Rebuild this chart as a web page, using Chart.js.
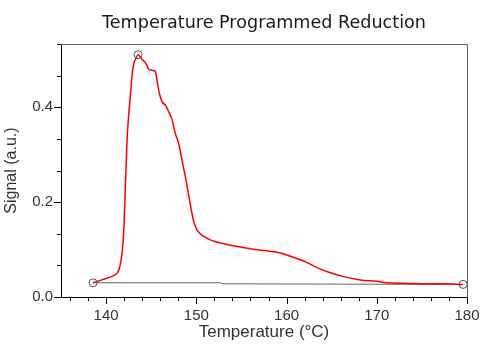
<!DOCTYPE html>
<html>
<head>
<meta charset="utf-8">
<script src="https://cdn.jsdelivr.net/npm/chart.js@4.4.1/dist/chart.umd.min.js"></script>
<style>
  html, body { margin: 0; padding: 0; background: #fff; }
  #wrap { width: 488px; height: 364px; }
</style>
</head>
<body>
<div id="wrap"><canvas id="c" width="488" height="364"></canvas></div>
<script>
// ---- data ----
const temperature = [138.55, 139.36, 139.91, 140.65, 141.21, 141.46, 141.69, 141.83, 141.98, 142.05,
  142.13, 142.24, 142.32, 142.49, 142.68, 142.87, 143.05, 143.31, 143.54, 143.98,
  144.35, 144.71, 145.09, 145.45, 145.64, 145.82, 146.20, 146.56, 146.93, 147.31,
  147.67, 148.04, 148.34, 148.59, 148.78, 149.15, 149.52, 149.70, 149.89, 150.08,
  150.35, 150.63, 151.00, 151.36, 152.29, 153.77, 155.62, 157.46, 159.31, 160.42,
  161.90, 163.38, 164.86, 166.33, 168.18, 170.03, 171.14, 173.72, 175.58, 177.42, 179.57];
const signal = [0.030, 0.035, 0.0385, 0.0434, 0.0504, 0.0597, 0.0808, 0.105, 0.148, 0.183,
  0.232, 0.289, 0.331, 0.381, 0.423, 0.465, 0.490, 0.504, 0.511, 0.501,
  0.494, 0.481, 0.478, 0.476, 0.458, 0.437, 0.412, 0.405, 0.391, 0.374,
  0.345, 0.324, 0.296, 0.271, 0.254, 0.215, 0.176, 0.160, 0.150, 0.141,
  0.135, 0.130, 0.126, 0.122, 0.116, 0.109, 0.103, 0.098, 0.093, 0.086,
  0.076, 0.062, 0.051, 0.043, 0.036, 0.033, 0.030, 0.0286, 0.028, 0.028, 0.0265];
const baselineTemp = [138.55, 152.7, 152.8, 179.57];
const baselineSignal = [0.030, 0.030, 0.0278, 0.0265];
const markerTemp = [138.55, 143.54, 179.57];
const markerSignal = [0.030, 0.511, 0.0265];

const xTicks = [136, 138, 140, 142, 144, 146, 148, 150, 152, 154, 156, 158, 160, 162, 164, 166, 168, 170, 172, 174, 176, 178, 180];
const xMajor = [140, 150, 160, 170, 180];
const yTicks = [0, 0.0667, 0.1333, 0.2, 0.2667, 0.3333, 0.4, 0.4667, 0.5333];
const yMajor = [0.0, 0.2, 0.4];

const titleText = 'Temperature Programmed Reduction';
const xTitle = 'Temperature (°C)';
const yTitle = 'Signal (a.u.)';

// ---- helpers ----
const toPts = (xs, ys) => xs.map((x, i) => ({ x: x, y: ys[i] }));
const isMajor = (v, list) => list.some(m => Math.abs(m - v) < 1e-3);

const tickPlugin = {
  id: 'customTicks',
  afterDraw(chart) {
    const { ctx, chartArea: a, scales: { x, y } } = chart;
    ctx.save();
    ctx.strokeStyle = '#000';
    ctx.lineWidth = 1;
    ctx.beginPath();
    x.ticks.forEach(t => {
      const px = Math.round(x.getPixelForValue(t.value)) + 0.5;
      const len = isMajor(t.value, xMajor) ? 7 : 4;
      ctx.moveTo(px, a.bottom);
      ctx.lineTo(px, a.bottom + len);
    });
    y.ticks.forEach(t => {
      const py = Math.round(y.getPixelForValue(t.value)) + 0.5;
      const len = isMajor(t.value, yMajor) ? 7 : 4;
      ctx.moveTo(a.left, py);
      ctx.lineTo(a.left - len, py);
    });
    ctx.stroke();
    ctx.strokeStyle = '#666';
    ctx.beginPath();
    ctx.moveTo(a.left, Math.round(a.top) + 0.5);
    ctx.lineTo(Math.round(a.right) + 0.5, Math.round(a.top) + 0.5);
    ctx.lineTo(Math.round(a.right) + 0.5, a.bottom);
    ctx.stroke();
    ctx.restore();
  }
};

new Chart(document.getElementById('c'), {
  type: 'scatter',
  data: {
    datasets: [
      {
        data: toPts(markerTemp, markerSignal),
        showLine: false,
        pointRadius: 4,
        pointBorderWidth: 1,
        pointBorderColor: '#555',
        pointBackgroundColor: 'rgba(0,0,0,0)',
        order: 0
      },
      {
        data: toPts(temperature, signal),
        showLine: true,
        borderColor: '#ff0000',
        borderWidth: 1.5,
        pointRadius: 0,
        cubicInterpolationMode: 'monotone',
        fill: false,
        order: 1
      },
      {
        data: toPts(baselineTemp, baselineSignal),
        showLine: true,
        borderColor: '#666',
        borderWidth: 1,
        pointRadius: 0,
        tension: 0,
        fill: false,
        order: 2
      }
    ]
  },
  options: {
    responsive: false,
    animation: false,
    layout: { padding: { left: 0, right: 21, top: 0, bottom: 0 } },
    plugins: {
      legend: { display: false },
      tooltip: { enabled: false },
      title: {
        display: true,
        text: titleText,
        fullSize: false,
        color: '#1a1a1a',
        font: { family: 'DejaVu Sans', size: 17.6, weight: 'normal' },
        padding: { top: 12.5, bottom: 10.5 }
      }
    },
    scales: {
      x: {
        type: 'linear',
        min: 135,
        max: 180,
        afterBuildTicks: s => { s.ticks = xTicks.map(v => ({ value: v })); },
        afterFit: s => { s.height = 67; },
        grid: { display: true, drawOnChartArea: false, drawTicks: true, tickLength: 7, tickColor: 'rgba(0,0,0,0)' },
        border: { display: true, color: '#000', width: 1 },
        ticks: {
          autoSkip: false,
          maxRotation: 0,
          padding: 3,
          color: '#333',
          font: { family: 'Liberation Sans', size: 15 },
          callback: v => isMajor(v, xMajor) ? String(Math.round(v)) : ''
        },
        title: {
          display: true,
          text: xTitle,
          color: '#333',
          font: { family: 'Liberation Sans', size: 17 },
          padding: { top: 0, bottom: 21 }
        }
      },
      y: {
        type: 'linear',
        min: 0,
        max: 0.5333,
        afterBuildTicks: s => { s.ticks = yTicks.map(v => ({ value: v })); },
        afterFit: s => { s.width = 61; },
        grid: { display: true, drawOnChartArea: false, drawTicks: true, tickLength: 7, tickColor: 'rgba(0,0,0,0)' },
        border: { display: true, color: '#000', width: 1 },
        ticks: {
          autoSkip: false,
          padding: 1,
          color: '#333',
          font: { family: 'Liberation Sans', size: 15 },
          callback: v => isMajor(v, yMajor) ? v.toFixed(1) : ''
        },
        title: {
          display: true,
          text: yTitle,
          color: '#333',
          font: { family: 'Liberation Sans', size: 16 },
          padding: { top: 2, bottom: 0 }
        }
      }
    }
  },
  plugins: [tickPlugin]
});
</script>
</body>
</html>
